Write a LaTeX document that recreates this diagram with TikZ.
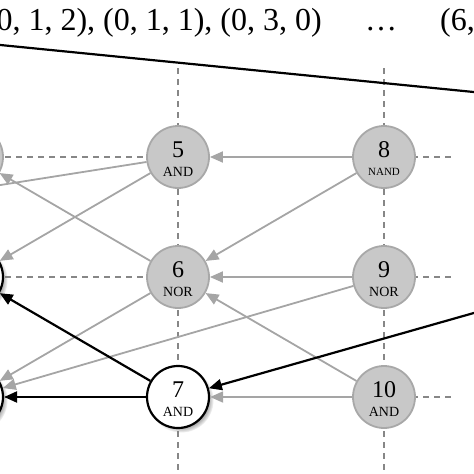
\documentclass[tikz,border=0pt]{standalone}
\usepackage{fontspec}
\setmainfont{Liberation Serif}
\usetikzlibrary{arrows.meta,shadows}

\definecolor{gatefill}{RGB}{200,200,200}
\definecolor{gatedraw}{RGB}{168,168,168}
\definecolor{edgegray}{RGB}{165,165,165}
\definecolor{gridgray}{RGB}{135,135,135}

\tikzset{gate/.style={circle,minimum size=62pt,inner sep=0pt,draw=gatedraw,fill=gatefill,line width=1.8pt}}
\tikzset{activegate/.style={gate,draw=black,fill=white,line width=2.2pt,
    circular drop shadow={shadow xshift=3pt,shadow yshift=-3pt,shadow scale=1.05,opacity=0.6}}}
\tikzset{gnum/.style={inner sep=0pt,font=\fontsize{24}{24}\selectfont}}
\tikzset{gfun/.style={inner sep=0pt,font=\fontsize{14}{14}\selectfont}}
\tikzset{genes/.style={inner sep=0pt,font=\fontsize{32}{32}\selectfont}}
\tikzset{gridline/.style={draw=gridgray,line width=1.3pt,dash pattern=on 6pt off 5pt}}
\tikzset{offedge/.style={-{Triangle[length=13pt,width=11pt]},draw=edgegray,fill=edgegray,line width=1.8pt}}
\tikzset{onedge/.style={-{Triangle[length=13pt,width=11pt]},draw=black,line width=2.2pt}}

% gate: style, name, position, number, function
\newcommand{\gate}[5]{%
  \node[#1] (#2) at (#3) {};
  \node[gnum] (#2num) at ([yshift=7pt]#2.center) {#4};
  \node[gfun] (#2fun) at ([yshift=-14.5pt]#2.center) {#5};
}

\begin{document}
\begin{tikzpicture}[x=1pt,y=-1pt]
  \useasboundingbox (0,0) rectangle (474,474);

  % genotype
  \node[genes,anchor=base east] (genes) at (322,30) {(0, 1, 2), (0, 1, 1), (0, 3, 0)};
  \node[genes,anchor=base] (dots) at (381,30) {…};
  \node[genes,anchor=base west] (last) at (440,30) {(6,};

  % grid of the graph
  \foreach \y in {157,277,397}
    \draw[gridline] (-28,\y) -- (453,\y);
  \foreach \x in {-28,178,384}
    \draw[gridline] (\x,68) -- (\x,490);

  % line from the genotype
  \coordinate (topL) at (-50,40);
  \coordinate (topR) at (520,96.6);
  \draw[line width=2.2pt] (topL) -- (topR);

  % gates
  \node[gate] (n2) at (-28,157) {};
  \node[activegate] (n3) at (-28,277) {};
  \node[activegate] (n4) at (-28,397) {};
  \gate{gate}{n5}{178,157}{5}{AND}
  \gate{gate}{n6}{178,277}{6}{NOR}
  \gate{activegate}{n7}{178,397}{7}{AND}
  \gate{gate}{n8}{384,157}{8}{\fontsize{11}{11}\selectfont NAND}
  \gate{gate}{n9}{384,277}{9}{NOR}
  \gate{gate}{n10}{384,397}{10}{AND}

  % outside the view
  \coordinate (inL) at (-234,222);
  \coordinate (outR) at (590,280);

  % connections
  \foreach \a/\b in {n8/n5,n8/n6,n9/n6,n9/n4,n10/n6,n10/n7,n5/n3,n6/n2,n6/n4,n5/inL}
    \draw[offedge] (\a) -- (\b);
  \foreach \a/\b in {n7/n3,n7/n4,outR/n7}
    \draw[onedge] (\a) -- (\b);
\end{tikzpicture}
\end{document}
